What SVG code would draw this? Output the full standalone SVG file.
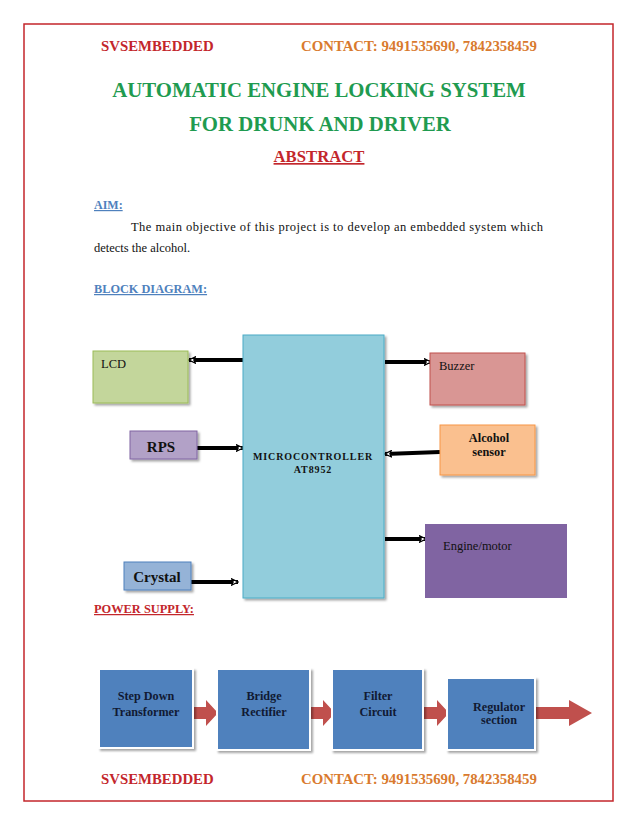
<svg xmlns="http://www.w3.org/2000/svg" width="638" height="826" viewBox="0 0 638 826">
<defs>
<style>
.t{font-family:"Liberation Serif","Times New Roman",serif}
.b{font-weight:bold}
.red{fill:#c3262b}
.org{fill:#d97a2e}
.grn{fill:#1f9b50}
.blu{fill:#4f81bd}
.conn{stroke:#000;stroke-width:4;fill:none}
.pbox{fill:#4f81bd;stroke:#fff;stroke-width:2}
.ptxt{font-family:"Liberation Serif","Times New Roman",serif;font-weight:bold;font-size:12.2px;fill:#111a33;text-anchor:middle}
.rarrow{fill:#c0504d}
</style>
<marker id="oa" viewBox="0 0 10 10" refX="9" refY="5" markerWidth="2" markerHeight="2" orient="auto" markerUnits="strokeWidth">
<path d="M1,1 L9,5 L1,9 L3,5 Z" fill="#fff" stroke="#000" stroke-width="1.5"/>
</marker>
<filter id="sh" x="-10%" y="-10%" width="130%" height="130%">
<feDropShadow dx="2" dy="2" stdDeviation="0.8" flood-color="#000" flood-opacity="0.35"/>
</filter>
</defs>
<rect width="638" height="826" fill="#fff"/>
<rect x="24" y="24" width="589" height="777" fill="none" stroke="#c3262b" stroke-width="1.5"/>

<g id="header">
<text class="t b red" x="101" y="51" font-size="14.8">SVSEMBEDDED</text>
<text class="t b org" x="301" y="51" font-size="14.8">CONTACT: 9491535690, 7842358459</text>
</g>
<g id="title">
<text class="t b grn" x="319" y="97" font-size="20.8" text-anchor="middle">AUTOMATIC ENGINE LOCKING SYSTEM</text>
<text class="t b grn" x="320" y="131" font-size="20.8" text-anchor="middle">FOR DRUNK AND DRIVER</text>
<text class="t b red" x="319" y="162" font-size="16.7" text-anchor="middle" text-decoration="underline">ABSTRACT</text>
</g>
<g id="aim">
<text class="t b blu" x="94" y="209" font-size="12" text-decoration="underline">AIM:</text>
<text class="t" x="131" y="231" font-size="12.5" fill="#111" textLength="412" lengthAdjust="spacing">The main objective of this project is to develop an embedded system which</text>
<text class="t" x="94" y="252" font-size="12.5" fill="#111">detects the alcohol.</text>
<text class="t b blu" x="94" y="293" font-size="12.3" text-decoration="underline">BLOCK DIAGRAM:</text>
</g>

<g id="connectors">
<line class="conn" x1="243" y1="360" x2="189" y2="360" marker-end="url(#oa)"/>
<line class="conn" x1="197" y1="448" x2="243" y2="448" marker-end="url(#oa)"/>
<line class="conn" x1="385" y1="362" x2="431" y2="362" marker-end="url(#oa)"/>
<line class="conn" x1="440" y1="452" x2="385" y2="454" marker-end="url(#oa)"/>
<line class="conn" x1="385" y1="539" x2="426" y2="539" marker-end="url(#oa)"/>
<line class="conn" x1="191" y1="582" x2="238" y2="582" marker-end="url(#oa)"/>
</g>

<g id="lcd">
<rect x="93" y="351" width="95" height="52" fill="#c3d69b" stroke="#9bbb59" stroke-width="1" filter="url(#sh)"/>
<text class="t" x="101" y="368" font-size="12.5" fill="#111">LCD</text>
</g>
<g id="mcu">
<rect x="243" y="335" width="141" height="263" fill="#92cddc" stroke="#4bacc6" stroke-width="1" filter="url(#sh)"/>
<text class="t b" x="313" y="460" font-size="10" fill="#111" text-anchor="middle" letter-spacing="0.9">MICROCONTROLLER</text>
<text class="t b" x="313" y="473" font-size="10" fill="#111" text-anchor="middle" letter-spacing="0.9">AT8952</text>
</g>
<g id="rps">
<rect x="130" y="431" width="67" height="28" fill="#b2a1c7" stroke="#8064a2" stroke-width="1" filter="url(#sh)"/>
<text class="t b" x="161" y="452" font-size="15" fill="#111" text-anchor="middle">RPS</text>
</g>
<g id="buzzer">
<rect x="430" y="353" width="95" height="52" fill="#d99694" stroke="#c0504d" stroke-width="1" filter="url(#sh)"/>
<text class="t" x="439" y="370" font-size="12.5" fill="#111">Buzzer</text>
</g>
<g id="alcohol">
<rect x="440" y="425" width="95" height="50" fill="#fac08f" stroke="#f79646" stroke-width="1" filter="url(#sh)"/>
<text class="t b" x="489" y="442" font-size="12.3" fill="#111" text-anchor="middle">Alcohol</text>
<text class="t b" x="489" y="456" font-size="12.3" fill="#111" text-anchor="middle">sensor</text>
</g>
<g id="engine">
<rect x="425" y="524" width="142" height="74" fill="#8064a2"/>
<text class="t" x="443" y="550" font-size="12.5" fill="#111">Engine/motor</text>
</g>
<g id="crystal">
<rect x="124" y="562" width="67" height="28" fill="#95b3d7" stroke="#4f81bd" stroke-width="1" filter="url(#sh)"/>
<text class="t b" x="157" y="582" font-size="15" fill="#111" text-anchor="middle">Crystal</text>
</g>

<g id="power-label">
<text class="t b red" x="94" y="613" font-size="12.4" text-decoration="underline">POWER SUPPLY:</text>
</g>

<g id="power-arrows">
<path class="rarrow" d="M193,707 H206 V700 L218,713 L206,726 V719 H193 Z"/>
<path class="rarrow" d="M310,707 H323 V700 L335,713 L323,726 V719 H310 Z"/>
<path class="rarrow" d="M423,707 H437 V700 L449,713 L437,726 V719 H423 Z"/>
<path class="rarrow" d="M535,707 H569 V700 L592,713 L569,726 V719 H535 Z"/>
</g>
<g id="step-down">
<rect class="pbox" x="99" y="669" width="94" height="79" filter="url(#sh)"/>
<text class="ptxt" x="146" y="700">Step Down</text>
<text class="ptxt" x="146" y="716">Transformer</text>
</g>
<g id="bridge">
<rect class="pbox" x="217" y="669" width="93" height="81" filter="url(#sh)"/>
<text class="ptxt" x="264" y="700">Bridge</text>
<text class="ptxt" x="264" y="716">Rectifier</text>
</g>
<g id="filter">
<rect class="pbox" x="332" y="669" width="91" height="81" filter="url(#sh)"/>
<text class="ptxt" x="378" y="700">Filter</text>
<text class="ptxt" x="378" y="716">Circuit</text>
</g>
<g id="regulator">
<rect class="pbox" x="447" y="678" width="88" height="72" filter="url(#sh)"/>
<text class="ptxt" x="499" y="711">Regulator</text>
<text class="ptxt" x="499" y="724">section</text>
</g>

<g id="footer">
<text class="t b red" x="101" y="784" font-size="14.8">SVSEMBEDDED</text>
<text class="t b org" x="301" y="784" font-size="14.8">CONTACT: 9491535690, 7842358459</text>
</g>
</svg>
